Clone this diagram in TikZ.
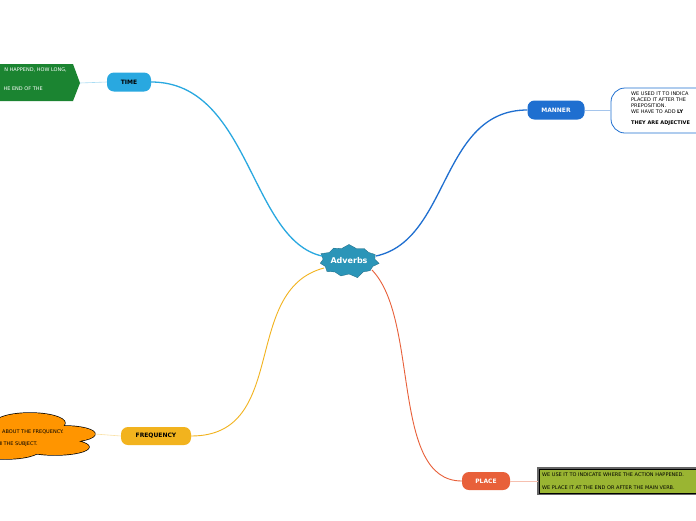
\documentclass[tikz,border=0pt]{standalone}
\usepackage{fontspec}
\setmainfont{DejaVu Sans}
\usetikzlibrary{shapes.symbols}
\definecolor{ctime}{HTML}{29A8E0}
\definecolor{cman}{HTML}{1F6FD0}
\definecolor{cfreq}{HTML}{F2B31E}
\definecolor{cplace}{HTML}{E8603A}
\definecolor{cgreen}{HTML}{1B8431}
\definecolor{colive}{HTML}{9AB532}
\definecolor{ccore}{HTML}{2B95B8}
\definecolor{corange}{HTML}{FF9500}
\begin{document}
\begin{tikzpicture}[x=1pt,y=-1pt,
  topic/.style={rounded corners=7pt,minimum height=19pt,inner sep=1pt,font=\fontsize{6}{7}\selectfont\bfseries},
  small/.style={font=\fontsize{5}{6}\selectfont,inner sep=0pt},
  branch/.style={line width=1.3pt}]
\useasboundingbox (0,0) rectangle (696,520);
\clip (0,0) rectangle (696,520);
\fill[white] (0,0) rectangle (696,520);
% center
\node[starburst,starburst points=11,starburst point height=5pt,fill=ccore,draw=ccore!70!black,line width=0.3pt,minimum width=58pt,minimum height=36pt,inner sep=0pt,text=white,font=\fontsize{8}{9}\selectfont\bfseries] (c) at (349,261) {Adverbs};
% topics
\node[topic,fill=ctime,minimum width=44pt] (time) at (129,82) {TIME};
\node[topic,fill=cman,text=white,minimum width=57pt] (man) at (556,110) {MANNER};
\node[topic,fill=cfreq,minimum width=70pt,minimum height=18pt] (freq) at (156,436) {FREQUENCY};
\node[topic,fill=cplace,text=white,minimum width=48pt,minimum height=18pt] (place) at (486,481) {PLACE};
% detail boxes
\fill[cgreen] (-10,64) -- (73,64) -- (80,83) -- (73,101) -- (-10,101) -- cycle;
\coordinate (gtip) at (80,83);
\node[small,text=white,anchor=east] (g1) at (67,70) {N HAPPEND, HOW LONG,};
\node[small,text=white,anchor=east] (g2) at (43,89) {HE END OF THE};
\draw[cman,line width=0.8pt,fill=white,rounded corners=14pt] (611,88) rectangle (730,133);
\coordinate (mb) at (611,110);
\node[small,anchor=north west,align=left] (mt) at (631,92) {WE USED IT TO INDICA\\PLACED IT AFTER THE\\PREPOSITION.\\WE HAVE TO ADD \textbf{LY}\\[5pt]\textbf{THEY ARE ADJECTIVE}};
% cloud
\draw[line width=1.4pt] (30,423) ellipse (35 and 10) (65,434) ellipse (30 and 8) (55,447) ellipse (34 and 8)
  (5,450) ellipse (35 and 9) (0,432) ellipse (40 and 14);
\fill[corange] (30,423) ellipse (35 and 10) (65,434) ellipse (30 and 8) (55,447) ellipse (34 and 8)
  (5,450) ellipse (35 and 9) (0,432) ellipse (40 and 14) (25,437) ellipse (50 and 12);
\coordinate (clr) at (95,434);
\node[small,anchor=west] (f1) at (2,432) {ABOUT THE FREQUENCY.};
\node[small,anchor=west] (f2) at (0,444) {\textbf{I} THE SUBJECT.};
\draw[black!60,line width=1.2pt,fill=colive] (538,468) rectangle (720,494);
\draw[black,line width=0.6pt] (539,469) rectangle (720,493);
\coordinate (pb) at (538,481);
\node[small,anchor=west] (p1) at (542,475) {WE USE IT TO INDICATE WHERE THE ACTION HAPPENED.};
\node[small,anchor=west] (p2) at (542,488) {WE PLACE IT AT THE END OR AFTER THE MAIN VERB.};
% connectors
\draw[branch,ctime] (322,256) .. controls (250,240) and (250,82) .. (time.east);
\draw[branch,cman] (376,256) .. controls (450,240) and (440,110) .. (man.west);
\draw[branch,cfreq,line width=0.9pt] (324,268) .. controls (240,290) and (290,436) .. (freq.east);
\draw[branch,cplace,line width=0.9pt] (372,270) .. controls (420,320) and (390,481) .. (place.west);
\draw[ctime!40,line width=0.6pt] (time.west) -- (gtip);
\draw[cman!40,line width=0.6pt] (man.east) -- (mb);
\draw[cfreq!40,line width=0.6pt] (freq.west) -- (clr);
\draw[cplace!40,line width=0.6pt] (place.east) -- (pb);
\end{tikzpicture}
\end{document}
